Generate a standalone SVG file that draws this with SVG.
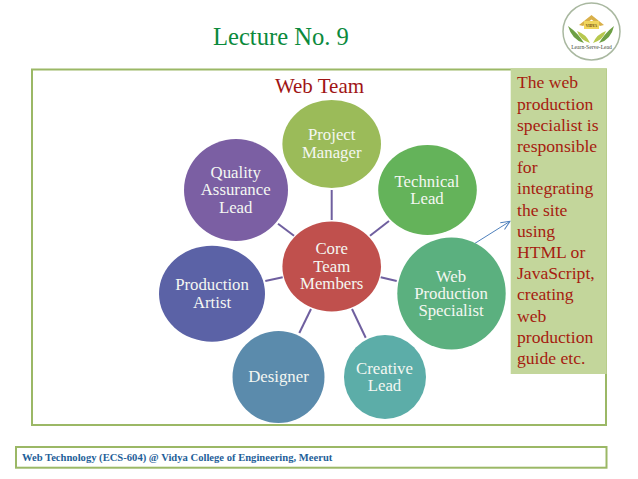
<svg xmlns="http://www.w3.org/2000/svg" width="638" height="479" viewBox="0 0 638 479">
<style>
text{font-family:"Liberation Serif","Times New Roman",serif}
.n{font-size:16.8px;fill:#f4f7f2;text-anchor:middle}
.c{font-size:17.6px;fill:#a61c10}
.l{stroke:#6f5f9f;stroke-width:2;fill:none}
.f{fill:#fff;stroke:#9bb866;stroke-width:2}
</style>
<defs><marker id="a" markerWidth="12" markerHeight="12" refX="10" refY="5" orient="auto" markerUnits="userSpaceOnUse"><path d="M1 1L10 5L1 9" fill="none" stroke="#4f81bd" stroke-width="1"/></marker></defs>
<rect width="638" height="479" fill="#fff"/>
<text x="213" y="45" font-size="24.6" fill="#0b8a3c">Lecture No. 9</text>
<g id="logo">
<circle cx="591.5" cy="31.5" r="28.5" fill="#fff" stroke="#a9b8a0" stroke-width="1.5"/>
<path d="M579 25L591.5 15L604 25L600 26L591.5 19.5L583 26Z" fill="#d9b04a"/>
<rect x="584" y="21" width="15" height="8" fill="#f0d55c"/>
<path d="M568 26Q578 33 584 43Q572 40 568 26ZM614 26Q605 33 599 43Q611 40 614 26Z" fill="#6d9f45"/>
<path d="M577 31Q586 34 590 43Q580 40 577 31ZM606 31Q597 34 593 43Q603 40 606 31Z" fill="#b7c84e"/>
<text x="591.5" y="26.5" font-size="3.6" font-weight="bold" text-anchor="middle" fill="#6a4a10">VIDYA</text>
<text x="591.5" y="49" font-size="5.6" text-anchor="middle" fill="#3f4a38">Learn-Serve-Lead</text>
</g>
<rect id="frame" class="f" x="32" y="69.5" width="574" height="355.5"/>
<text x="319.5" y="93" font-size="21" text-anchor="middle" fill="#a01515">Web Team</text>
<g id="connectors">
<path class="l" d="M331.7 190V220"/>
<path class="l" d="M370 235.7L389 221"/>
<path class="l" d="M380.7 277.3L396.7 281"/>
<path class="l" d="M352 309L365.7 337.7"/>
<path class="l" d="M311 309L299.3 333"/>
<path class="l" d="M282.7 277.3L265.3 281"/>
<path class="l" d="M294 235.7L278 223.7"/>
<path d="M475 243.3L510 221.3" fill="none" stroke="#4f81bd" stroke-width="1" marker-end="url(#a)"/>
</g>
<g id="project-manager"><ellipse cx="331.7" cy="144" rx="49.3" ry="44" fill="#9bbb59"/><text class="n" x="331.7" y="140">Project</text><text class="n" x="331.7" y="157.5">Manager</text></g>
<g id="technical-lead"><ellipse cx="427.5" cy="190" rx="49.3" ry="45" fill="#64b35a"/><text class="n" x="427" y="187">Technical</text><text class="n" x="427" y="204">Lead</text></g>
<g id="web-production-specialist"><ellipse cx="451.5" cy="293.5" rx="54.2" ry="56" fill="#5bb07f"/><text class="n" x="451" y="281.7">Web</text><text class="n" x="451" y="299">Production</text><text class="n" x="451" y="316">Specialist</text></g>
<g id="creative-lead"><ellipse cx="385" cy="377" rx="41" ry="42" fill="#5cada8"/><text class="n" x="384.5" y="374">Creative</text><text class="n" x="384.5" y="391">Lead</text></g>
<g id="designer"><ellipse cx="278.5" cy="377" rx="46" ry="46" fill="#5b8bac"/><text class="n" x="278.5" y="382">Designer</text></g>
<g id="production-artist"><ellipse cx="212" cy="293.7" rx="53" ry="48" fill="#5b62a6"/><text class="n" x="212" y="290">Production</text><text class="n" x="212" y="307.5">Artist</text></g>
<g id="quality-assurance-lead"><ellipse cx="236" cy="190" rx="52" ry="51" fill="#7b5fa3"/><text class="n" x="235.7" y="178">Quality</text><text class="n" x="235.7" y="195">Assurance</text><text class="n" x="235.7" y="212.5">Lead</text></g>
<g id="core-team-members"><ellipse cx="331.7" cy="266.5" rx="49.3" ry="45" fill="#c0504d"/><text class="n" x="331.7" y="254">Core</text><text class="n" x="331.7" y="272">Team</text><text class="n" x="331.7" y="288.7">Members</text></g>
<g id="callout"><rect x="510.7" y="68.3" width="96" height="305.7" fill="#c3d69b"/>
<text class="c"><tspan x="517" y="88.3">The web</tspan><tspan x="517" y="109.5">production</tspan><tspan x="517" y="130.7">specialist is</tspan><tspan x="517" y="151.9">responsible</tspan><tspan x="517" y="173.1">for</tspan><tspan x="517" y="194.3">integrating</tspan><tspan x="517" y="215.5">the site</tspan><tspan x="517" y="236.7">using</tspan><tspan x="517" y="257.9">HTML or</tspan><tspan x="517" y="279.1">JavaScript,</tspan><tspan x="517" y="300.3">creating</tspan><tspan x="517" y="321.5">web</tspan><tspan x="517" y="342.7">production</tspan><tspan x="517" y="363.9">guide etc.</tspan></text></g>
<g id="footer"><rect class="f" x="16" y="447" width="590.5" height="20.7"/><text x="22" y="460.5" font-size="10.6" font-weight="bold" fill="#1f5f99">Web Technology (ECS-604) @ Vidya College of Engineering, Meerut</text></g>
</svg>
